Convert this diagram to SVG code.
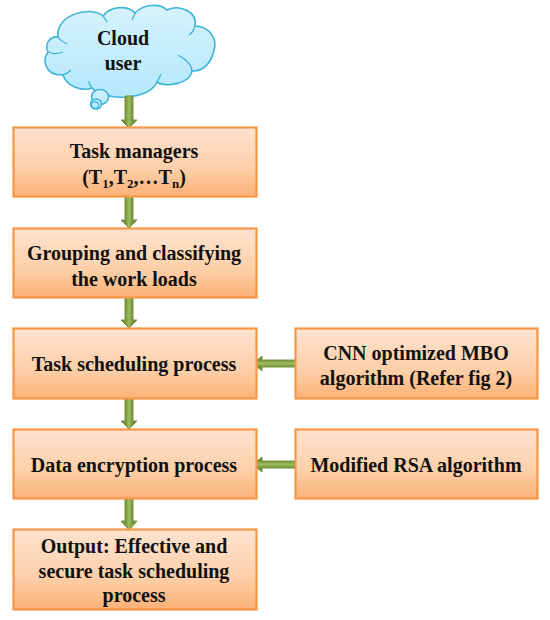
<svg xmlns="http://www.w3.org/2000/svg" width="550" height="620" viewBox="0 0 550 620">
<style>
.box{stroke:#f79646;stroke-width:2.2;fill:url(#boxFill)}
.t{font-family:"Liberation Serif",serif;font-weight:bold;font-size:20px;fill:#111;text-anchor:middle}
.sub{font-size:13px}
.down{fill:url(#arrowV);stroke:#76923c;stroke-width:1}
.left{fill:url(#arrowH);stroke:#76923c;stroke-width:1}
.cloud{fill:url(#cloudFill);stroke:#3fb4d8;stroke-width:1.6}
.inner{fill:none;stroke:#3fb4d8;stroke-width:1.3}
</style>
<defs>
<linearGradient id="boxFill" x1="0" y1="0" x2="0" y2="1">
<stop offset="0" stop-color="#fde3d0"/><stop offset="0.6" stop-color="#fdcfa8"/><stop offset="1" stop-color="#fbb176"/>
</linearGradient>
<linearGradient id="cloudFill" x1="0" y1="0" x2="0" y2="1">
<stop offset="0" stop-color="#d6f2fd"/><stop offset="1" stop-color="#b4e8fb"/>
</linearGradient>
<linearGradient id="arrowV" x1="0" y1="0" x2="1" y2="0">
<stop offset="0.25" stop-color="#6f8f38"/><stop offset="0.5" stop-color="#9cbc5c"/><stop offset="0.75" stop-color="#6f8f38"/>
</linearGradient>
<linearGradient id="arrowH" x1="0" y1="0" x2="0" y2="1">
<stop offset="0.25" stop-color="#6f8f38"/><stop offset="0.5" stop-color="#9cbc5c"/><stop offset="0.75" stop-color="#6f8f38"/>
</linearGradient>
</defs>
<g id="cloud-user">
<path class="cloud" d="M58 37C55 15 90 5 103 16C110 6 128 5 135 13C143 4 160 3 167 10C180 4 198 12 195 26C208 26 218 38 214 50C212 60 205 72 192 71C190 84 165 88 157 82C150 100 105 102 92 88C80 92 66 85 63 75C45 76 42 60 48 52C44 44 50 36 58 37Z"/>
<path class="inner" d="M58 37C60 40 63 42 67 44M48 52C52 54 58 54 63 52M63 75C66 74 69 72 71 70M92 88C90 85 89 83 89 81M157 82C159 79 160 76 161 74M192 71C192 66 187 60 178 55M195 26C194 30 192 33 189 35M135 13C134 16 133 18 132 20M103 16C105 18 106 20 107 22"/>
<ellipse class="cloud" cx="100" cy="97" rx="8.500" ry="7.500"/>
<ellipse class="cloud" cx="96" cy="104" rx="5.500" ry="5"/>
<circle class="inner" cx="95" cy="105" r="3.500"/>
<text class="t" x="123" y="45">Cloud</text>
<text class="t" x="123" y="70">user</text>
</g>
<g id="connectors">
<path class="down" d="M125 96H133V120H137L129 128L121 120H125Z"/>
<path class="down" d="M125 196H133V220H137L129 228L121 220H125Z"/>
<path class="down" d="M125 297H133V320H137L129 328L121 320H125Z"/>
<path class="down" d="M125 398H133V421H137L129 429L121 421H125Z"/>
<path class="down" d="M125 498H133V521H137L129 530L121 521H125Z"/>
<path class="left" d="M297 360V367H262V371L253 363.500L262 356V360Z"/>
<path class="left" d="M297 461V468H262V472L253 464.500L262 457V461Z"/>
</g>
<g id="task-managers">
<rect class="box" x="13.500" y="127.500" width="243" height="69"/>
<text class="t" x="134" y="158">Task managers</text>
<text class="t" x="134" y="184">(T<tspan class="sub" dy="4">1</tspan><tspan dy="-4">,T</tspan><tspan class="sub" dy="4">2</tspan><tspan dy="-4">,…T</tspan><tspan class="sub" dy="4">n</tspan><tspan dy="-4">)</tspan></text>
</g>
<g id="grouping">
<rect class="box" x="13.500" y="228.500" width="243" height="69"/>
<text class="t" x="134" y="260">Grouping and classifying</text>
<text class="t" x="134" y="286">the work loads</text>
</g>
<g id="task-scheduling">
<rect class="box" x="13.500" y="328.500" width="243" height="70"/>
<text class="t" x="134" y="371">Task scheduling process</text>
</g>
<g id="data-encryption">
<rect class="box" x="13.500" y="429.500" width="243" height="69"/>
<text class="t" x="134" y="472">Data encryption process</text>
</g>
<g id="output">
<rect class="box" x="13.500" y="529.500" width="243" height="80"/>
<text class="t" x="134" y="553">Output: Effective and</text>
<text class="t" x="134" y="578">secure task scheduling</text>
<text class="t" x="134" y="602">process</text>
</g>
<g id="cnn-mbo">
<rect class="box" x="295.500" y="328.500" width="242" height="70"/>
<text class="t" x="416" y="360">CNN optimized MBO</text>
<text class="t" x="416" y="385">algorithm (Refer fig 2)</text>
</g>
<g id="modified-rsa">
<rect class="box" x="295.500" y="429.500" width="242" height="69"/>
<text class="t" x="416" y="472">Modified RSA algorithm</text>
</g>
</svg>
